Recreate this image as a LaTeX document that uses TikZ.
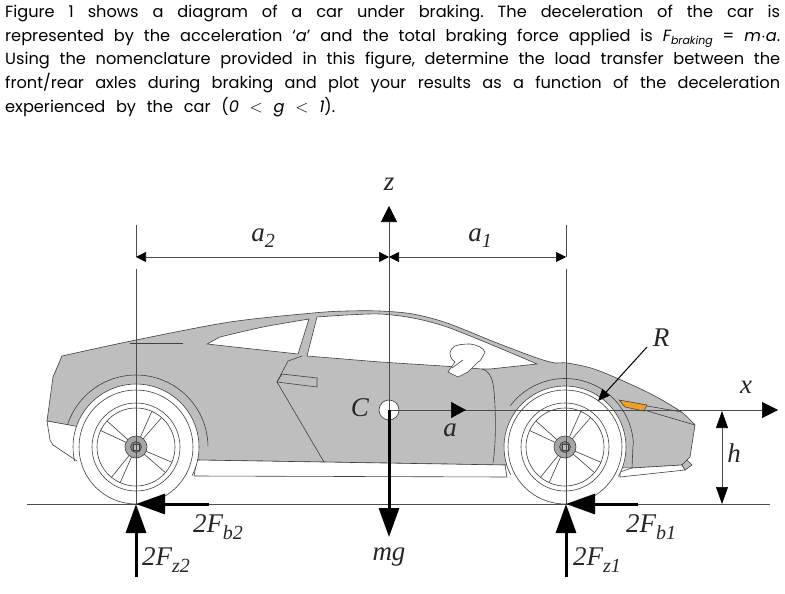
\documentclass[tikz,border=0pt]{standalone}
\usepackage{fontspec}
\setmainfont{Poppins}
\newfontfamily\labelfont{Liberation Serif}
\usetikzlibrary{arrows.meta,positioning,calc}
\definecolor{carbody}{RGB}{190,190,190}
\definecolor{lamp}{RGB}{240,160,40}
\tikzstyle{question}=[anchor=north west,inner sep=0pt,text width=775pt,align=justify,font=\fontsize{16.2}{23.7}\selectfont\frenchspacing]
\tikzstyle{lbl}=[inner sep=0pt,font=\labelfont\itshape\fontsize{27}{27}\selectfont,text=black!85]
\tikzstyle{carline}=[draw=black!75,line width=0.6pt]
\tikzstyle{thinaxis}=[draw=black!70,line width=0.7pt]
\tikzstyle{axisarrow}=[thinaxis,-{Triangle[length=16pt,width=16pt,color=black]}]
\tikzstyle{dimarrow}=[thinaxis,{Triangle[length=10pt,width=10pt,color=black]}-{Triangle[length=10pt,width=10pt,color=black]}]
\tikzstyle{forcearrow}=[draw=black,line width=3pt,-{Triangle[length=29pt,width=20pt]}]
\newcommand{\lowtext}[1]{\raisebox{-0.24em}{\fontsize{20}{20}\selectfont #1}}
\begin{document}
\begin{tikzpicture}[x=1pt,y=-1pt]
    \useasboundingbox (0,0) rectangle (785,594);
    \node [question] (statement) at (5,5) {Figure 1 shows a diagram of a car under braking. The deceleration of the car is\linebreak
      represented by the acceleration `\textit{a}' and the total braking force applied is \textit{F\raisebox{-0.2em}{\fontsize{11}{11}\selectfont braking}} = \textit{m$\cdot$a}.\linebreak
      Using the nomenclature provided in this figure, determine the load transfer between the\linebreak
      front/rear axles during braking and plot your results as a function of the deceleration\linebreak
      \hbox to 330pt{experienced by the car (\textit{0} $<$ \textit{g} $<$ \textit{1}).}};

    \coordinate (rearhub) at (136,447);
    \coordinate (fronthub) at (565,447);

    \filldraw [carline,fill=carbody] (47,421) -- (53,377) -- (62,356)
      -- plot [smooth,tension=0.5] coordinates {(62,356) (136,340) (230,322) (313,313) (347,311) (380,311) (413,314) (447,323) (497,343) (537,358) (555,363) (567,363) (597,370) (647,392) (680,411) (695,425)}
      -- (690,457) -- (682,465) -- (632,468) -- (505,465) -- (323,462) -- (197,460) -- (68,425) -- cycle;
    \filldraw [carline,fill=white] (207,344) -- (220,337)
      -- plot [smooth,tension=0.5] coordinates {(220,337) (263,327) (309,319)}
      -- (298,354) -- cycle;
    \filldraw [carline,fill=white] (317,317)
      -- plot [smooth,tension=0.5] coordinates {(317,317) (347,315) (380,314) (413,318) (447,327) (497,347) (537,364)}
      -- (490,369) -- (482,369) -- (443,366) -- (380,362) -- (307,356) -- cycle;
    \filldraw [carline,fill=white] (197,460) -- (323,462) -- (505,465) -- (507,477) -- (194,476) -- cycle;
    \filldraw [carline,fill=white] (620,472) -- (632,468) -- (682,465) -- (685,470) -- (620,477) -- cycle;
    \filldraw [carline,fill=carbody] (682,465) -- (687,460) -- (692,465) -- (685,470) -- cycle;
    \draw [carline] (130,343) -- (183,343);
    \draw [carline] (302,356) -- (288,361) -- (277,382) -- (324,462);
    \draw [carline] (277,382) -- (282,374) -- (317,378) -- (317,387) -- cycle;
    \draw [carline] (482,369) .. controls (493,372) and (494,385) .. (495,407) .. controls (496,430) and (495,450) .. (493,463);
    \draw [carline] (644,410) -- (695,425);
    \draw [carline] (647,406) -- (682,412);
    \filldraw [carline,fill=lamp] (619,400) -- (647,405) -- (644,411) -- (625,407) -- cycle;
    \filldraw [carline,fill=white] (450,353) .. controls (451,347) and (455,344) .. (470,344) .. controls (478,345) and (483,348) .. (485,352) .. controls (482,358) and (480,362) .. (478,362) -- (468,372) -- (458,377) -- (448,372) -- (455,362) .. controls (452,360) and (450,357) .. (450,353);
    \draw [carline] (452,368) -- (463,360);

    \fill [white] (rearhub) circle (63);
    \fill [white] (fronthub) circle (61);
    \filldraw [carline,fill=white] (75,426) -- (47,421) -- (50,440) -- (53,445) -- (77,461);
    \draw [carline,shift={(rearhub)},domain=-162:-1,samples=50] plot (\x:72);
    \draw [carline,shift={(rearhub)},domain=-193:27,samples=50] plot (\x:63);
    \draw [carline,shift={(fronthub)},domain=-143:-2,samples=50] plot (\x:68.5);
    \draw [carline,shift={(fronthub)},domain=-207:29,samples=50] plot (\x:61);
    \coordinate (fenderend) at (633,445);
    \coordinate (fenderlow) at (632,468);
    \draw [carline] (fenderend) -- (fenderlow);

    \foreach \hub in {rearhub,fronthub} {
      \draw [carline] (\hub) circle (57);
      \draw [carline] (\hub) circle (44);
      \draw [carline] (\hub) circle (39);
      \foreach \spoke in {-155,-138,-66,-49,23,41,-231,-246} {
        \draw [carline] ($(\hub)+(\spoke:10)$) -- ($(\hub)+(\spoke:39)$);
      }
      \filldraw [carline,fill=black!35] (\hub) circle (11);
      \filldraw [carline,fill=black!50] (\hub) circle (5.5);
      \filldraw [carline,fill=carbody] ($(\hub)+(-3,-3)$) rectangle ($(\hub)+(3,3)$);
    }

    \node [circle,draw=black!70,fill=white,line width=0.7pt,minimum size=20pt,inner sep=0pt] (cog) at (389,410) {};
    \node [lbl] (clabel) at (360,408) {C};

    \coordinate (reartop) at (136,225);
    \coordinate (reardim) at (136,257);
    \coordinate (rearlow) at (136,269);
    \coordinate (rearground) at (136,504);
    \coordinate (fronttop) at (566,225);
    \coordinate (frontdim) at (566,257);
    \coordinate (frontlow) at (566,269);
    \coordinate (frontground) at (566,504);
    \coordinate (middim) at (389,257);
    \coordinate (ztip) at (389,206);
    \coordinate (xtip) at (778,410);
    \coordinate (atip) at (466,410);
    \coordinate (groundleft) at (27,504);
    \coordinate (groundright) at (770,504);
    \coordinate (heighttop) at (722,411);
    \coordinate (heightlow) at (722,504);

    \draw [thinaxis] (groundleft) -- (groundright);
    \draw [thinaxis] (reartop) -- (reardim);
    \draw [thinaxis] (rearlow) -- (rearground);
    \draw [thinaxis] (fronttop) -- (frontdim);
    \draw [thinaxis] (frontlow) -- (frontground);
    \draw [dimarrow] (reardim) -- (middim);
    \draw [dimarrow] (middim) -- (frontdim);
    \draw [axisarrow] (cog.center) -- (ztip);
    \draw [axisarrow] (cog.center) -- (xtip);
    \draw [axisarrow,-{Triangle[length=15pt,width=16pt,color=black]}] (cog.center) -- (atip);
    \draw [thinaxis,{Triangle[length=17pt,width=12pt,color=black]}-{Triangle[length=17pt,width=12pt,color=black]}] (heighttop) -- (heightlow);

    \node [lbl] (zlabel) at (389,184) {z};
    \node [lbl] (atwo) at (263,238) {a\lowtext{2}};
    \node [lbl] (aone) at (480,238) {a\lowtext{1}};
    \node [lbl] (rlabel) at (661,338) {R};
    \node [lbl] (xlabel) at (746,387) {x};
    \node [lbl] (alabel) at (450,430) {a};
    \node [lbl] (hlabel) at (734,453) {h};
    \coordinate (rtail) at (647,347);
    \coordinate (rtip) at (598,401);
    \draw [draw=black,line width=1pt,-{Triangle[length=12pt,width=10pt]}] (rtail) -- (rtip);

    \coordinate (mgtip) at (389,537);
    \coordinate (fzrear) at (136,577);
    \coordinate (fzfront) at (566,577);
    \coordinate (fbrear) at (209,504);
    \coordinate (fbfront) at (638,504);
    \draw [forcearrow] (cog.center) -- (mgtip);
    \draw [forcearrow] (fzrear) -- (rearground);
    \draw [forcearrow] (fzfront) -- (frontground);
    \draw [forcearrow] (fbrear) -- (rearground);
    \draw [forcearrow] (fbfront) -- (frontground);

    \node [lbl] (mglabel) at (389,557) {mg};
    \node [lbl] (fbtwo) at (218,527) {2F\lowtext{b2}};
    \node [lbl] (fbone) at (651,527) {2F\lowtext{b1}};
    \node [lbl] (fztwo) at (166,560) {2F\lowtext{z2}};
    \node [lbl] (fzone) at (597,560) {2F\lowtext{z1}};
\end{tikzpicture}
\end{document}
